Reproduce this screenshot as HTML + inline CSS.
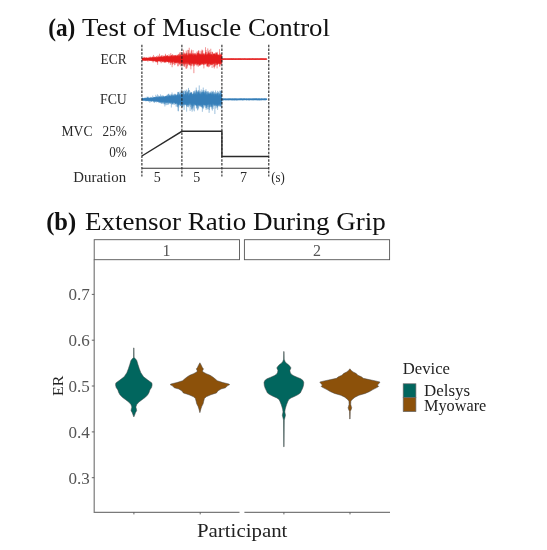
<!DOCTYPE html>
<html><head><meta charset="utf-8"><title>Figure</title>
<style>html,body{margin:0;padding:0;background:#fff}body{width:547px;height:550px;overflow:hidden}</style></head>
<body>
<svg width="547" height="550" viewBox="0 0 547 550" style="display:block;font-family:'Liberation Serif',serif">
<rect width="547" height="550" fill="#fff"/>
<text x="48.2" y="35.8" font-size="24.6" font-weight="bold" fill="#111" textLength="27.1" lengthAdjust="spacingAndGlyphs" >(a)</text>
<text x="82.0" y="35.8" font-size="24.6" font-weight="normal" fill="#111" textLength="248.0" lengthAdjust="spacingAndGlyphs" >Test of Muscle Control</text>
<text x="46.2" y="229.5" font-size="24.6" font-weight="bold" fill="#111" textLength="30.0" lengthAdjust="spacingAndGlyphs" >(b)</text>
<text x="85.0" y="229.5" font-size="24.6" font-weight="normal" fill="#111" textLength="300.8" lengthAdjust="spacingAndGlyphs" >Extensor Ratio During Grip</text>
<path d="M142.00,57.78 L142.25,58.39 L142.50,57.96 L142.75,58.27 L143.00,57.88 L143.25,58.16 L143.50,58.14 L143.75,57.79 L144.00,58.09 L144.25,57.98 L144.50,58.19 L144.75,58.15 L145.00,58.25 L145.25,58.36 L145.50,57.80 L145.75,58.35 L146.00,57.08 L146.25,57.96 L146.50,58.26 L146.75,57.81 L147.00,58.14 L147.25,57.96 L147.50,58.00 L147.75,58.04 L148.00,58.07 L148.25,57.89 L148.50,58.12 L148.75,57.88 L149.00,57.94 L149.25,57.89 L149.50,57.51 L149.75,58.06 L150.00,57.61 L150.25,58.00 L150.50,57.91 L150.75,58.01 L151.00,58.07 L151.25,57.58 L151.50,57.89 L151.75,57.58 L152.00,57.83 L152.25,57.87 L152.50,56.50 L152.75,58.06 L153.00,57.49 L153.25,57.09 L153.50,57.75 L153.75,58.00 L154.00,58.06 L154.25,57.08 L154.50,58.07 L154.75,57.70 L155.00,57.90 L155.25,57.33 L155.50,57.37 L155.75,57.48 L156.00,57.89 L156.25,57.84 L156.50,57.42 L156.75,57.96 L157.00,57.60 L157.25,57.94 L157.50,57.03 L157.75,57.24 L158.00,57.88 L158.25,57.96 L158.50,57.57 L158.75,56.78 L159.00,57.04 L159.25,56.90 L159.50,57.87 L159.75,56.25 L160.00,56.86 L160.25,56.35 L160.50,57.57 L160.75,57.47 L161.00,56.27 L161.25,57.16 L161.50,56.82 L161.75,56.43 L162.00,56.16 L162.25,57.69 L162.50,56.91 L162.75,57.28 L163.00,56.75 L163.25,56.98 L163.50,57.42 L163.75,56.86 L164.00,56.81 L164.25,56.02 L164.50,56.84 L164.75,57.25 L165.00,57.44 L165.25,57.22 L165.50,56.81 L165.75,57.49 L166.00,56.67 L166.25,55.49 L166.50,57.09 L166.75,56.52 L167.00,56.64 L167.25,55.25 L167.50,56.38 L167.75,56.48 L168.00,57.08 L168.25,56.90 L168.50,57.21 L168.75,55.70 L169.00,57.34 L169.25,57.28 L169.50,56.48 L169.75,57.17 L170.00,56.92 L170.25,56.57 L170.50,56.29 L170.75,57.16 L171.00,56.48 L171.25,54.64 L171.50,55.84 L171.75,56.43 L172.00,56.81 L172.25,57.11 L172.50,56.45 L172.75,57.03 L173.00,56.65 L173.25,56.49 L173.50,55.34 L173.75,57.03 L174.00,57.04 L174.25,56.70 L174.50,54.85 L174.75,55.88 L175.00,56.70 L175.25,55.73 L175.50,55.71 L175.75,56.78 L176.00,55.65 L176.25,56.46 L176.50,56.33 L176.75,56.50 L177.00,56.66 L177.25,55.81 L177.50,56.54 L177.75,55.69 L178.00,56.14 L178.25,56.23 L178.50,55.47 L178.75,56.46 L179.00,56.74 L179.25,55.77 L179.50,56.78 L179.75,55.91 L180.00,56.49 L180.25,55.95 L180.50,56.41 L180.75,55.54 L181.00,55.55 L181.25,56.43 L181.50,55.63 L181.75,55.07 L182.00,56.55 L182.25,56.11 L182.50,52.63 L182.75,55.89 L183.00,56.15 L183.25,54.84 L183.50,54.07 L183.75,56.44 L184.00,56.15 L184.25,55.14 L184.50,56.00 L184.75,56.10 L185.00,53.97 L185.25,54.19 L185.50,55.75 L185.75,55.67 L186.00,55.48 L186.25,56.38 L186.50,51.84 L186.75,52.89 L187.00,55.41 L187.25,56.03 L187.50,55.43 L187.75,56.05 L188.00,55.24 L188.25,55.69 L188.50,51.80 L188.75,55.37 L189.00,55.91 L189.25,53.94 L189.50,55.81 L189.75,53.47 L190.00,55.25 L190.25,52.70 L190.50,55.58 L190.75,53.96 L191.00,56.01 L191.25,54.80 L191.50,53.86 L191.75,55.60 L192.00,51.35 L192.25,55.65 L192.50,54.33 L192.75,55.42 L193.00,55.84 L193.25,55.96 L193.50,55.75 L193.75,55.06 L194.00,54.20 L194.25,55.36 L194.50,54.06 L194.75,55.72 L195.00,53.79 L195.25,54.85 L195.50,54.82 L195.75,56.04 L196.00,55.39 L196.25,55.80 L196.50,55.92 L196.75,55.93 L197.00,55.54 L197.25,52.63 L197.50,52.78 L197.75,55.21 L198.00,55.37 L198.25,52.03 L198.50,50.05 L198.75,54.23 L199.00,55.42 L199.25,53.70 L199.50,55.27 L199.75,55.74 L200.00,52.40 L200.25,55.57 L200.50,55.22 L200.75,54.30 L201.00,55.47 L201.25,55.14 L201.50,55.56 L201.75,53.72 L202.00,55.91 L202.25,53.70 L202.50,53.52 L202.75,54.97 L203.00,55.24 L203.25,55.73 L203.50,55.42 L203.75,53.06 L204.00,54.07 L204.25,55.65 L204.50,55.88 L204.75,55.49 L205.00,54.89 L205.25,52.62 L205.50,52.52 L205.75,53.88 L206.00,55.41 L206.25,55.84 L206.50,54.62 L206.75,56.12 L207.00,51.67 L207.25,53.40 L207.50,55.12 L207.75,55.41 L208.00,53.44 L208.25,55.73 L208.50,52.12 L208.75,54.65 L209.00,52.87 L209.25,52.49 L209.50,54.43 L209.75,55.27 L210.00,54.73 L210.25,55.77 L210.50,54.38 L210.75,53.49 L211.00,55.04 L211.25,54.74 L211.50,55.27 L211.75,54.34 L212.00,55.12 L212.25,56.01 L212.50,54.95 L212.75,55.78 L213.00,55.72 L213.25,56.26 L213.50,52.67 L213.75,54.35 L214.00,53.92 L214.25,53.79 L214.50,54.34 L214.75,54.51 L215.00,54.59 L215.25,56.21 L215.50,54.79 L215.75,54.40 L216.00,52.90 L216.25,54.08 L216.50,53.25 L216.75,56.29 L217.00,54.33 L217.25,56.23 L217.50,54.35 L217.75,53.92 L218.00,55.72 L218.25,55.83 L218.50,54.45 L218.75,55.30 L219.00,56.15 L219.25,54.20 L219.50,56.05 L219.75,56.45 L220.00,56.02 L220.25,53.86 L220.50,56.37 L220.75,55.13 L221.00,55.69 L221.25,55.33 L221.50,53.57 L221.75,56.13 L222.00,58.50 L222.25,58.68 L222.50,58.49 L222.75,58.54 L223.00,58.67 L223.25,58.67 L223.50,58.64 L223.75,58.66 L224.00,58.65 L224.25,58.70 L224.50,58.69 L224.75,58.68 L225.00,58.60 L225.25,58.54 L225.50,58.51 L225.75,58.70 L226.00,58.72 L226.25,58.68 L226.50,58.64 L226.75,58.55 L227.00,58.68 L227.25,58.72 L227.50,58.51 L227.75,58.69 L228.00,58.71 L228.25,58.66 L228.50,58.71 L228.75,58.52 L229.00,58.63 L229.25,58.56 L229.50,58.49 L229.75,58.66 L230.00,58.45 L230.25,58.54 L230.50,58.38 L230.75,58.69 L231.00,58.46 L231.25,58.71 L231.50,58.67 L231.75,58.62 L232.00,58.54 L232.25,58.71 L232.50,58.48 L232.75,58.66 L233.00,58.62 L233.25,58.53 L233.50,58.59 L233.75,58.54 L234.00,58.63 L234.25,58.70 L234.50,58.63 L234.75,58.57 L235.00,58.66 L235.25,58.69 L235.50,58.61 L235.75,58.70 L236.00,58.54 L236.25,58.70 L236.50,58.68 L236.75,58.59 L237.00,58.55 L237.25,58.48 L237.50,58.68 L237.75,58.63 L238.00,58.70 L238.25,58.52 L238.50,58.62 L238.75,58.67 L239.00,58.57 L239.25,58.69 L239.50,58.54 L239.75,58.47 L240.00,58.55 L240.25,58.62 L240.50,58.63 L240.75,58.71 L241.00,58.58 L241.25,58.59 L241.50,58.70 L241.75,58.71 L242.00,58.59 L242.25,58.71 L242.50,58.46 L242.75,58.67 L243.00,58.70 L243.25,58.68 L243.50,58.63 L243.75,58.61 L244.00,58.47 L244.25,58.59 L244.50,58.70 L244.75,58.53 L245.00,58.57 L245.25,58.65 L245.50,58.58 L245.75,58.70 L246.00,58.68 L246.25,58.65 L246.50,58.66 L246.75,58.58 L247.00,58.70 L247.25,58.70 L247.50,58.64 L247.75,58.60 L248.00,58.72 L248.25,58.51 L248.50,58.71 L248.75,58.61 L249.00,58.62 L249.25,58.70 L249.50,58.60 L249.75,58.53 L250.00,58.71 L250.25,58.70 L250.50,58.67 L250.75,58.71 L251.00,58.54 L251.25,58.68 L251.50,58.70 L251.75,58.70 L252.00,58.56 L252.25,58.57 L252.50,58.56 L252.75,58.53 L253.00,58.67 L253.25,58.66 L253.50,58.60 L253.75,58.69 L254.00,58.63 L254.25,58.67 L254.50,58.70 L254.75,58.66 L255.00,58.66 L255.25,58.64 L255.50,58.61 L255.75,58.70 L256.00,58.72 L256.25,58.71 L256.50,58.70 L256.75,58.71 L257.00,58.46 L257.25,58.72 L257.50,58.67 L257.75,58.65 L258.00,58.69 L258.25,58.59 L258.50,58.69 L258.75,58.69 L259.00,58.70 L259.25,58.70 L259.50,58.66 L259.75,58.57 L260.00,58.61 L260.25,58.66 L260.50,58.60 L260.75,58.67 L261.00,58.52 L261.25,58.58 L261.50,58.58 L261.75,58.71 L262.00,58.61 L262.25,58.67 L262.50,58.51 L262.75,58.55 L263.00,58.63 L263.25,58.53 L263.50,58.60 L263.75,58.60 L264.00,58.69 L264.25,58.49 L264.50,58.69 L264.75,58.66 L265.00,58.61 L265.25,58.62 L265.50,58.64 L265.75,58.71 L266.00,58.67 L266.25,58.71 L266.50,58.67 L266.75,58.62 L266.75,59.56 L266.50,59.56 L266.25,59.55 L266.00,59.54 L265.75,59.58 L265.50,59.56 L265.25,59.48 L265.00,59.64 L264.75,59.65 L264.50,59.61 L264.25,59.49 L264.00,59.76 L263.75,59.50 L263.50,59.52 L263.25,59.48 L263.00,59.52 L262.75,59.54 L262.50,59.58 L262.25,59.53 L262.00,59.56 L261.75,59.57 L261.50,59.49 L261.25,59.51 L261.00,59.58 L260.75,59.51 L260.50,59.62 L260.25,59.52 L260.00,59.63 L259.75,59.58 L259.50,59.49 L259.25,59.61 L259.00,59.69 L258.75,59.58 L258.50,59.70 L258.25,59.54 L258.00,59.62 L257.75,59.55 L257.50,59.51 L257.25,59.49 L257.00,59.69 L256.75,59.55 L256.50,59.67 L256.25,59.54 L256.00,59.48 L255.75,59.53 L255.50,59.51 L255.25,59.64 L255.00,59.64 L254.75,59.53 L254.50,59.76 L254.25,59.53 L254.00,59.51 L253.75,59.66 L253.50,59.57 L253.25,59.56 L253.00,59.60 L252.75,59.54 L252.50,59.51 L252.25,59.48 L252.00,59.51 L251.75,59.79 L251.50,59.51 L251.25,59.66 L251.00,59.62 L250.75,59.51 L250.50,59.52 L250.25,59.75 L250.00,59.49 L249.75,59.49 L249.50,59.68 L249.25,59.72 L249.00,59.73 L248.75,59.48 L248.50,59.58 L248.25,59.49 L248.00,59.55 L247.75,59.75 L247.50,59.65 L247.25,59.70 L247.00,59.49 L246.75,59.54 L246.50,59.49 L246.25,59.56 L246.00,59.53 L245.75,59.51 L245.50,59.53 L245.25,59.71 L245.00,59.52 L244.75,59.49 L244.50,59.51 L244.25,59.48 L244.00,59.54 L243.75,59.53 L243.50,59.76 L243.25,59.52 L243.00,59.56 L242.75,59.50 L242.50,59.60 L242.25,59.49 L242.00,59.57 L241.75,59.48 L241.50,59.60 L241.25,59.58 L241.00,59.71 L240.75,59.71 L240.50,59.62 L240.25,59.48 L240.00,59.75 L239.75,59.49 L239.50,59.55 L239.25,59.65 L239.00,59.48 L238.75,59.74 L238.50,59.54 L238.25,59.71 L238.00,59.55 L237.75,59.57 L237.50,59.48 L237.25,59.63 L237.00,59.48 L236.75,59.51 L236.50,59.54 L236.25,59.55 L236.00,59.51 L235.75,59.69 L235.50,59.71 L235.25,59.50 L235.00,59.58 L234.75,59.60 L234.50,59.49 L234.25,59.58 L234.00,59.65 L233.75,59.52 L233.50,59.60 L233.25,59.59 L233.00,59.54 L232.75,59.63 L232.50,59.64 L232.25,59.58 L232.00,59.63 L231.75,59.74 L231.50,59.56 L231.25,59.67 L231.00,59.53 L230.75,59.62 L230.50,59.64 L230.25,59.55 L230.00,59.57 L229.75,59.68 L229.50,59.48 L229.25,59.60 L229.00,59.67 L228.75,59.55 L228.50,59.63 L228.25,59.52 L228.00,59.50 L227.75,59.62 L227.50,59.66 L227.25,59.48 L227.00,59.56 L226.75,59.50 L226.50,59.49 L226.25,59.60 L226.00,59.51 L225.75,59.64 L225.50,59.50 L225.25,59.55 L225.00,59.60 L224.75,59.57 L224.50,59.52 L224.25,59.53 L224.00,59.65 L223.75,59.49 L223.50,59.58 L223.25,59.63 L223.00,59.50 L222.75,59.53 L222.50,59.68 L222.25,59.48 L222.00,59.57 L221.75,61.88 L221.50,63.17 L221.25,62.92 L221.00,61.76 L220.75,62.52 L220.50,65.63 L220.25,62.07 L220.00,63.41 L219.75,62.93 L219.50,64.10 L219.25,63.76 L219.00,64.01 L218.75,62.67 L218.50,64.65 L218.25,61.86 L218.00,64.10 L217.75,65.06 L217.50,64.51 L217.25,64.12 L217.00,62.41 L216.75,65.58 L216.50,62.03 L216.25,65.48 L216.00,62.79 L215.75,61.90 L215.50,62.04 L215.25,66.19 L215.00,62.63 L214.75,61.96 L214.50,64.30 L214.25,62.50 L214.00,63.70 L213.75,61.99 L213.50,62.91 L213.25,63.54 L213.00,64.56 L212.75,64.72 L212.50,64.41 L212.25,62.76 L212.00,62.60 L211.75,63.72 L211.50,65.41 L211.25,63.08 L211.00,64.35 L210.75,64.20 L210.50,65.06 L210.25,63.55 L210.00,66.30 L209.75,62.61 L209.50,64.43 L209.25,62.60 L209.00,64.35 L208.75,64.57 L208.50,63.88 L208.25,63.09 L208.00,67.16 L207.75,64.61 L207.50,64.99 L207.25,62.71 L207.00,63.49 L206.75,62.83 L206.50,62.91 L206.25,64.00 L206.00,62.85 L205.75,63.37 L205.50,65.06 L205.25,62.12 L205.00,63.42 L204.75,63.60 L204.50,62.86 L204.25,64.84 L204.00,62.40 L203.75,63.93 L203.50,65.77 L203.25,63.41 L203.00,62.88 L202.75,63.96 L202.50,65.25 L202.25,62.68 L202.00,64.53 L201.75,64.75 L201.50,62.25 L201.25,63.23 L201.00,63.22 L200.75,64.86 L200.50,64.30 L200.25,66.19 L200.00,64.83 L199.75,65.54 L199.50,65.17 L199.25,63.44 L199.00,65.82 L198.75,63.64 L198.50,62.86 L198.25,64.72 L198.00,63.48 L197.75,64.41 L197.50,63.66 L197.25,63.47 L197.00,65.58 L196.75,62.76 L196.50,63.46 L196.25,63.01 L196.00,65.18 L195.75,63.51 L195.50,63.09 L195.25,62.93 L195.00,65.96 L194.75,62.35 L194.50,64.95 L194.25,62.75 L194.00,65.82 L193.75,63.51 L193.50,65.68 L193.25,62.95 L193.00,62.63 L192.75,62.44 L192.50,63.31 L192.25,63.31 L192.00,63.62 L191.75,63.43 L191.50,62.20 L191.25,62.40 L191.00,63.47 L190.75,62.82 L190.50,62.52 L190.25,62.74 L190.00,62.97 L189.75,64.72 L189.50,64.32 L189.25,63.65 L189.00,63.32 L188.75,62.49 L188.50,61.99 L188.25,62.60 L188.00,64.25 L187.75,62.45 L187.50,61.90 L187.25,62.50 L187.00,61.94 L186.75,62.17 L186.50,62.27 L186.25,62.40 L186.00,63.14 L185.75,63.99 L185.50,61.79 L185.25,62.68 L185.00,61.77 L184.75,62.96 L184.50,63.42 L184.25,61.88 L184.00,63.30 L183.75,63.11 L183.50,63.21 L183.25,65.18 L183.00,61.75 L182.75,63.32 L182.50,62.40 L182.25,62.22 L182.00,62.93 L181.75,62.26 L181.50,63.52 L181.25,62.65 L181.00,63.54 L180.75,62.49 L180.50,61.56 L180.25,62.82 L180.00,61.81 L179.75,64.01 L179.50,61.81 L179.25,61.54 L179.00,62.07 L178.75,61.42 L178.50,62.05 L178.25,63.48 L178.00,61.45 L177.75,62.94 L177.50,61.87 L177.25,62.77 L177.00,61.91 L176.75,64.32 L176.50,61.58 L176.25,63.30 L176.00,62.12 L175.75,61.41 L175.50,63.30 L175.25,63.17 L175.00,61.24 L174.75,62.53 L174.50,62.43 L174.25,62.69 L174.00,61.10 L173.75,61.21 L173.50,61.11 L173.25,61.79 L173.00,62.19 L172.75,60.99 L172.50,63.67 L172.25,62.81 L172.00,61.57 L171.75,61.42 L171.50,61.80 L171.25,61.51 L171.00,62.68 L170.75,61.56 L170.50,61.52 L170.25,61.15 L170.00,60.96 L169.75,61.02 L169.50,62.16 L169.25,61.81 L169.00,61.38 L168.75,62.30 L168.50,61.25 L168.25,61.96 L168.00,61.86 L167.75,62.09 L167.50,61.25 L167.25,60.80 L167.00,62.27 L166.75,61.70 L166.50,60.88 L166.25,61.34 L166.00,61.00 L165.75,62.75 L165.50,61.57 L165.25,61.56 L165.00,61.52 L164.75,61.39 L164.50,62.38 L164.25,60.84 L164.00,61.64 L163.75,61.30 L163.50,61.02 L163.25,61.18 L163.00,61.00 L162.75,61.75 L162.50,60.66 L162.25,61.48 L162.00,60.99 L161.75,60.70 L161.50,60.42 L161.25,61.19 L161.00,60.57 L160.75,60.67 L160.50,60.88 L160.25,60.54 L160.00,61.03 L159.75,60.84 L159.50,60.51 L159.25,61.19 L159.00,61.31 L158.75,61.34 L158.50,60.69 L158.25,61.38 L158.00,60.41 L157.75,60.47 L157.50,61.33 L157.25,61.82 L157.00,61.66 L156.75,60.74 L156.50,60.82 L156.25,61.42 L156.00,60.46 L155.75,61.16 L155.50,60.83 L155.25,61.22 L155.00,60.95 L154.75,60.65 L154.50,60.50 L154.25,60.41 L154.00,60.81 L153.75,60.62 L153.50,60.46 L153.25,61.50 L153.00,61.19 L152.75,61.51 L152.50,60.16 L152.25,60.17 L152.00,60.95 L151.75,59.99 L151.50,61.07 L151.25,60.02 L151.00,60.04 L150.75,60.38 L150.50,60.24 L150.25,59.99 L150.00,59.99 L149.75,60.20 L149.50,60.65 L149.25,59.93 L149.00,59.90 L148.75,60.42 L148.50,59.94 L148.25,59.90 L148.00,60.09 L147.75,60.20 L147.50,60.68 L147.25,60.06 L147.00,59.91 L146.75,59.88 L146.50,60.81 L146.25,59.97 L146.00,60.23 L145.75,60.31 L145.50,60.40 L145.25,60.55 L145.00,60.61 L144.75,59.82 L144.50,60.57 L144.25,60.22 L144.00,59.75 L143.75,60.00 L143.50,60.73 L143.25,59.81 L143.00,59.81 L142.75,60.34 L142.50,60.06 L142.25,59.84 L142.00,59.87Z" fill="#e41a1c" stroke="none"/><path d="M142.00,58.23 L142.12,61.24 L142.25,58.28 L142.37,60.19 L142.50,58.12 L142.62,60.80 L142.75,57.84 L142.87,60.22 L143.00,57.85 L143.12,60.46 L143.25,57.97 L143.37,60.57 L143.50,57.83 L143.62,60.67 L143.75,58.15 L143.87,60.49 L144.00,56.81 L144.12,60.13 L144.25,57.63 L144.37,60.58 L144.50,57.54 L144.62,60.63 L144.75,58.18 L144.87,60.84 L145.00,57.39 L145.12,60.66 L145.25,57.90 L145.37,60.54 L145.50,57.75 L145.62,60.16 L145.75,58.17 L145.87,60.66 L146.00,58.03 L146.12,60.44 L146.25,57.97 L146.37,60.10 L146.50,57.39 L146.62,60.70 L146.75,57.78 L146.87,60.66 L147.00,57.83 L147.12,60.29 L147.25,57.51 L147.37,60.49 L147.50,57.91 L147.62,60.22 L147.75,58.04 L147.87,61.69 L148.00,57.90 L148.12,60.57 L148.25,57.99 L148.37,60.61 L148.50,57.86 L148.62,60.25 L148.75,56.87 L148.87,60.17 L149.00,58.02 L149.12,60.43 L149.25,57.88 L149.37,61.06 L149.50,57.55 L149.62,60.49 L149.75,57.99 L149.87,60.61 L150.00,57.27 L150.12,60.70 L150.25,56.50 L150.37,60.54 L150.50,57.38 L150.62,60.95 L150.75,57.41 L150.87,60.94 L151.00,57.95 L151.12,60.62 L151.25,57.84 L151.37,60.63 L151.50,57.51 L151.62,60.97 L151.75,57.71 L151.87,60.35 L152.00,57.80 L152.12,61.38 L152.25,56.73 L152.37,60.61 L152.50,57.76 L152.62,60.64 L152.75,56.63 L152.87,60.55 L153.00,57.40 L153.12,62.57 L153.25,57.46 L153.37,60.45 L153.50,54.96 L153.62,60.82 L153.75,57.52 L153.87,61.26 L154.00,57.47 L154.12,61.26 L154.25,57.36 L154.37,60.47 L154.50,57.44 L154.62,60.43 L154.75,56.38 L154.87,61.13 L155.00,56.80 L155.12,61.20 L155.25,57.41 L155.37,61.62 L155.50,57.45 L155.62,62.19 L155.75,57.67 L155.87,60.75 L156.00,57.11 L156.12,60.53 L156.25,57.67 L156.37,62.02 L156.50,56.02 L156.62,62.13 L156.75,56.67 L156.87,61.86 L157.00,57.54 L157.12,61.04 L157.25,56.56 L157.37,62.76 L157.50,57.38 L157.62,64.80 L157.75,57.56 L157.87,61.75 L158.00,55.30 L158.12,61.14 L158.25,57.11 L158.37,60.94 L158.50,56.28 L158.62,61.06 L158.75,56.87 L158.87,61.08 L159.00,56.59 L159.12,60.84 L159.25,57.29 L159.37,60.89 L159.50,53.77 L159.62,61.12 L159.75,57.38 L159.87,61.69 L160.00,57.38 L160.12,61.89 L160.25,57.22 L160.37,61.12 L160.50,56.36 L160.62,62.02 L160.75,57.05 L160.87,60.83 L161.00,56.33 L161.12,63.21 L161.25,55.24 L161.37,61.41 L161.50,57.32 L161.62,60.88 L161.75,56.33 L161.87,62.47 L162.00,55.27 L162.12,61.39 L162.25,57.21 L162.37,61.27 L162.50,57.09 L162.62,61.83 L162.75,56.72 L162.87,61.87 L163.00,55.64 L163.12,61.32 L163.25,55.69 L163.37,62.26 L163.50,56.74 L163.62,61.05 L163.75,56.79 L163.87,61.74 L164.00,55.94 L164.12,61.16 L164.25,56.61 L164.37,62.88 L164.50,56.12 L164.62,62.25 L164.75,56.71 L164.87,61.72 L165.00,55.84 L165.12,62.06 L165.25,54.89 L165.37,62.34 L165.50,53.84 L165.62,61.63 L165.75,56.44 L165.87,62.67 L166.00,55.86 L166.12,61.25 L166.25,56.13 L166.37,61.17 L166.50,55.79 L166.62,61.29 L166.75,56.00 L166.87,62.15 L167.00,55.29 L167.12,62.07 L167.25,55.65 L167.37,61.31 L167.50,55.06 L167.62,61.82 L167.75,56.05 L167.87,61.68 L168.00,56.92 L168.12,61.76 L168.25,56.40 L168.37,61.34 L168.50,56.04 L168.62,63.36 L168.75,56.24 L168.87,62.65 L169.00,54.31 L169.12,62.11 L169.25,56.53 L169.37,61.58 L169.50,56.27 L169.62,62.69 L169.75,56.08 L169.87,61.37 L170.00,54.96 L170.12,62.34 L170.25,56.12 L170.37,64.97 L170.50,56.15 L170.62,63.10 L170.75,53.14 L170.87,61.45 L171.00,56.53 L171.12,63.36 L171.25,55.35 L171.37,62.42 L171.50,55.44 L171.62,62.41 L171.75,56.63 L171.87,62.63 L172.00,54.89 L172.12,67.22 L172.25,55.51 L172.37,64.90 L172.50,54.19 L172.62,61.93 L172.75,55.69 L172.87,61.60 L173.00,55.92 L173.12,64.00 L173.25,55.88 L173.37,62.33 L173.50,54.95 L173.62,61.93 L173.75,56.55 L173.87,63.71 L174.00,56.07 L174.12,61.94 L174.25,55.19 L174.37,65.32 L174.50,55.62 L174.62,62.63 L174.75,56.27 L174.87,62.97 L175.00,55.67 L175.12,64.90 L175.25,55.22 L175.37,62.52 L175.50,55.54 L175.62,63.06 L175.75,55.63 L175.87,62.75 L176.00,55.08 L176.12,62.41 L176.25,54.83 L176.37,63.37 L176.50,56.18 L176.62,61.90 L176.75,56.06 L176.87,61.84 L177.00,56.29 L177.12,62.55 L177.25,55.89 L177.37,62.14 L177.50,55.01 L177.62,62.91 L177.75,54.97 L177.87,66.32 L178.00,54.44 L178.12,66.18 L178.25,55.51 L178.37,62.13 L178.50,54.07 L178.62,63.24 L178.75,55.50 L178.87,63.48 L179.00,55.99 L179.12,63.11 L179.25,53.56 L179.37,64.77 L179.50,55.11 L179.62,64.11 L179.75,52.35 L179.87,63.25 L180.00,54.25 L180.12,63.09 L180.25,55.11 L180.37,66.26 L180.50,54.37 L180.62,64.11 L180.75,52.06 L180.87,62.71 L181.00,55.89 L181.12,63.31 L181.25,55.47 L181.37,65.33 L181.50,54.36 L181.62,62.25 L181.75,52.02 L181.87,65.33 L182.00,54.62 L182.12,63.97 L182.25,55.25 L182.37,63.02 L182.50,53.94 L182.62,64.10 L182.75,55.44 L182.87,65.75 L183.00,52.52 L183.12,62.61 L183.25,54.83 L183.37,63.87 L183.50,49.80 L183.62,62.69 L183.75,54.16 L183.87,65.79 L184.00,54.67 L184.12,66.68 L184.25,53.28 L184.37,64.04 L184.50,52.59 L184.62,66.62 L184.75,53.99 L184.87,64.82 L185.00,54.43 L185.12,62.63 L185.25,54.28 L185.37,63.45 L185.50,53.17 L185.62,64.37 L185.75,55.22 L185.87,68.55 L186.00,54.63 L186.12,63.79 L186.25,50.67 L186.37,63.76 L186.50,53.39 L186.62,68.78 L186.75,53.42 L186.87,63.44 L187.00,55.38 L187.12,67.71 L187.25,54.82 L187.37,62.96 L187.50,55.00 L187.62,66.12 L187.75,53.53 L187.87,63.99 L188.00,49.84 L188.12,64.55 L188.25,50.08 L188.37,64.30 L188.50,53.71 L188.62,63.21 L188.75,55.29 L188.87,64.70 L189.00,54.25 L189.12,63.06 L189.25,47.74 L189.37,64.39 L189.50,53.37 L189.62,65.59 L189.75,53.38 L189.87,65.03 L190.00,54.04 L190.12,64.48 L190.25,54.92 L190.37,65.05 L190.50,52.74 L190.62,66.23 L190.75,54.02 L190.87,69.31 L191.00,54.70 L191.12,63.66 L191.25,50.74 L191.37,64.17 L191.50,49.62 L191.62,65.47 L191.75,53.90 L191.87,66.10 L192.00,53.48 L192.12,64.17 L192.25,54.08 L192.37,63.61 L192.50,54.82 L192.62,64.36 L192.75,53.39 L192.87,63.37 L193.00,50.07 L193.12,63.61 L193.25,53.07 L193.37,66.41 L193.50,53.91 L193.62,63.23 L193.75,54.25 L193.87,73.16 L194.00,55.18 L194.12,64.45 L194.25,54.16 L194.37,66.07 L194.50,54.72 L194.62,63.59 L194.75,53.17 L194.87,63.33 L195.00,52.83 L195.12,63.36 L195.25,53.42 L195.37,64.12 L195.50,54.45 L195.62,64.22 L195.75,54.88 L195.87,63.05 L196.00,54.83 L196.12,65.07 L196.25,54.08 L196.37,63.65 L196.50,54.61 L196.62,63.09 L196.75,52.44 L196.87,65.31 L197.00,54.78 L197.12,66.31 L197.25,51.23 L197.37,64.46 L197.50,52.79 L197.62,64.62 L197.75,53.70 L197.87,63.94 L198.00,54.78 L198.12,63.29 L198.25,53.00 L198.37,66.77 L198.50,50.53 L198.62,63.96 L198.75,53.41 L198.87,63.91 L199.00,50.61 L199.12,65.53 L199.25,53.28 L199.37,65.49 L199.50,54.43 L199.62,65.12 L199.75,53.91 L199.87,65.40 L200.00,54.15 L200.12,63.99 L200.25,53.89 L200.37,63.22 L200.50,54.79 L200.62,64.58 L200.75,53.59 L200.87,63.66 L201.00,50.84 L201.12,63.68 L201.25,54.67 L201.37,64.90 L201.50,54.09 L201.62,64.20 L201.75,52.47 L201.87,63.57 L202.00,49.58 L202.12,63.47 L202.25,50.62 L202.37,63.65 L202.50,55.00 L202.62,63.72 L202.75,50.40 L202.87,63.45 L203.00,54.29 L203.12,64.55 L203.25,53.57 L203.37,64.77 L203.50,53.69 L203.62,63.34 L203.75,54.38 L203.87,68.38 L204.00,54.72 L204.12,64.54 L204.25,53.11 L204.37,63.57 L204.50,54.43 L204.62,63.10 L204.75,55.03 L204.87,64.93 L205.00,53.96 L205.12,63.85 L205.25,54.22 L205.37,63.54 L205.50,47.26 L205.62,63.68 L205.75,51.87 L205.87,63.71 L206.00,50.06 L206.12,64.34 L206.25,52.14 L206.37,63.08 L206.50,53.97 L206.62,63.13 L206.75,54.74 L206.87,66.43 L207.00,55.13 L207.12,66.16 L207.25,54.58 L207.37,65.83 L207.50,54.27 L207.62,66.73 L207.75,48.42 L207.87,65.79 L208.00,53.82 L208.12,63.42 L208.25,53.29 L208.37,67.27 L208.50,51.22 L208.62,63.21 L208.75,52.37 L208.87,63.98 L209.00,52.69 L209.12,66.46 L209.25,49.91 L209.37,66.59 L209.50,53.46 L209.62,63.06 L209.75,54.63 L209.87,64.06 L210.00,54.70 L210.12,63.90 L210.25,53.75 L210.37,63.12 L210.50,52.19 L210.62,65.47 L210.75,48.78 L210.87,63.72 L211.00,54.92 L211.12,64.41 L211.25,54.32 L211.37,65.05 L211.50,53.99 L211.62,64.81 L211.75,54.64 L211.87,63.42 L212.00,51.65 L212.12,67.98 L212.25,51.99 L212.37,63.34 L212.50,52.33 L212.62,64.85 L212.75,55.20 L212.87,63.91 L213.00,54.06 L213.12,63.73 L213.25,53.89 L213.37,64.05 L213.50,54.10 L213.62,67.20 L213.75,53.38 L213.87,63.67 L214.00,54.49 L214.12,63.73 L214.25,54.07 L214.37,68.48 L214.50,53.03 L214.62,66.50 L214.75,54.53 L214.87,66.75 L215.00,54.35 L215.12,63.55 L215.25,54.24 L215.37,65.44 L215.50,54.79 L215.62,63.29 L215.75,52.76 L215.87,62.84 L216.00,52.07 L216.12,65.20 L216.25,52.99 L216.37,63.18 L216.50,54.83 L216.62,62.95 L216.75,52.87 L216.87,64.53 L217.00,52.91 L217.12,68.40 L217.25,51.89 L217.37,64.91 L217.50,55.07 L217.62,63.22 L217.75,54.81 L217.87,63.63 L218.00,54.75 L218.12,63.33 L218.25,54.55 L218.37,62.67 L218.50,54.85 L218.62,64.18 L218.75,55.05 L218.87,63.91 L219.00,55.15 L219.12,63.23 L219.25,54.83 L219.37,63.36 L219.50,49.19 L219.62,66.41 L219.75,54.65 L219.87,66.57 L220.00,52.86 L220.12,64.07 L220.25,54.88 L220.37,62.98 L220.50,55.18 L220.62,63.75 L220.75,54.13 L220.87,64.27 L221.00,54.71 L221.12,64.73 L221.25,55.35 L221.37,63.69 L221.50,53.31 L221.62,63.94 L221.75,54.26 L221.87,62.68 L222.00,58.56 L222.12,59.66 L222.25,58.62 L222.37,59.67 L222.50,58.55 L222.62,59.54 L222.75,58.65 L222.87,59.55 L223.00,58.63 L223.12,59.66 L223.25,58.51 L223.37,59.61 L223.50,58.57 L223.62,59.61 L223.75,58.43 L223.87,59.57 L224.00,58.55 L224.12,59.58 L224.25,58.50 L224.37,59.63 L224.50,58.54 L224.62,59.64 L224.75,58.58 L224.87,59.66 L225.00,58.48 L225.12,59.55 L225.25,58.55 L225.37,59.65 L225.50,58.67 L225.62,59.66 L225.75,58.68 L225.87,59.57 L226.00,58.61 L226.12,59.58 L226.25,58.67 L226.37,59.67 L226.50,58.59 L226.62,59.53 L226.75,58.56 L226.87,59.53 L227.00,58.44 L227.12,59.56 L227.25,58.58 L227.37,59.64 L227.50,58.65 L227.62,59.67 L227.75,58.49 L227.87,59.54 L228.00,58.65 L228.12,59.62 L228.25,58.57 L228.37,59.60 L228.50,58.58 L228.62,59.56 L228.75,58.53 L228.87,59.66 L229.00,58.53 L229.12,59.70 L229.25,58.63 L229.37,59.55 L229.50,58.63 L229.62,59.53 L229.75,58.65 L229.87,59.53 L230.00,58.59 L230.12,59.71 L230.25,58.65 L230.37,59.58 L230.50,58.63 L230.62,59.60 L230.75,58.64 L230.87,59.64 L231.00,58.53 L231.12,59.57 L231.25,58.59 L231.37,59.54 L231.50,58.48 L231.62,59.53 L231.75,58.54 L231.87,59.60 L232.00,58.42 L232.12,59.52 L232.25,58.58 L232.37,59.53 L232.50,58.61 L232.62,59.58 L232.75,58.50 L232.87,59.73 L233.00,58.54 L233.12,59.83 L233.25,58.67 L233.37,59.65 L233.50,58.59 L233.62,59.58 L233.75,58.55 L233.87,59.65 L234.00,58.67 L234.12,59.73 L234.25,58.55 L234.37,59.55 L234.50,58.64 L234.62,59.61 L234.75,58.63 L234.87,59.77 L235.00,58.53 L235.12,59.82 L235.25,58.51 L235.37,59.55 L235.50,58.64 L235.62,59.77 L235.75,58.58 L235.87,59.58 L236.00,58.61 L236.12,59.55 L236.25,58.63 L236.37,59.71 L236.50,58.57 L236.62,59.66 L236.75,58.66 L236.87,59.53 L237.00,58.59 L237.12,59.65 L237.25,58.59 L237.37,59.53 L237.50,58.66 L237.62,59.67 L237.75,58.60 L237.87,59.59 L238.00,58.51 L238.12,59.57 L238.25,58.62 L238.37,59.58 L238.50,58.68 L238.62,59.58 L238.75,58.40 L238.87,59.67 L239.00,58.57 L239.12,59.53 L239.25,58.62 L239.37,59.59 L239.50,58.63 L239.62,59.68 L239.75,58.58 L239.87,59.52 L240.00,58.60 L240.12,59.67 L240.25,58.51 L240.37,59.57 L240.50,58.51 L240.62,59.62 L240.75,58.49 L240.87,59.68 L241.00,58.67 L241.12,59.68 L241.25,58.65 L241.37,59.78 L241.50,58.60 L241.62,59.71 L241.75,58.66 L241.87,59.61 L242.00,58.67 L242.12,59.59 L242.25,58.60 L242.37,59.59 L242.50,58.44 L242.62,59.61 L242.75,58.67 L242.87,59.58 L243.00,58.53 L243.12,59.57 L243.25,58.68 L243.37,59.65 L243.50,58.61 L243.62,59.66 L243.75,58.61 L243.87,59.53 L244.00,58.47 L244.12,59.57 L244.25,58.66 L244.37,59.54 L244.50,58.56 L244.62,59.61 L244.75,58.62 L244.87,59.57 L245.00,58.61 L245.12,59.75 L245.25,58.45 L245.37,59.57 L245.50,58.63 L245.62,59.55 L245.75,58.64 L245.87,59.65 L246.00,58.67 L246.12,59.59 L246.25,58.65 L246.37,59.64 L246.50,58.67 L246.62,59.63 L246.75,58.66 L246.87,59.69 L247.00,58.53 L247.12,59.84 L247.25,58.64 L247.37,59.60 L247.50,58.64 L247.62,59.59 L247.75,58.64 L247.87,59.69 L248.00,58.65 L248.12,59.63 L248.25,58.66 L248.37,59.69 L248.50,58.61 L248.62,59.74 L248.75,58.65 L248.87,59.66 L249.00,58.57 L249.12,59.60 L249.25,58.50 L249.37,59.69 L249.50,58.62 L249.62,59.53 L249.75,58.64 L249.87,59.59 L250.00,58.54 L250.12,59.60 L250.25,58.46 L250.37,59.61 L250.50,58.61 L250.62,59.56 L250.75,58.43 L250.87,59.59 L251.00,58.68 L251.12,59.55 L251.25,58.53 L251.37,59.57 L251.50,58.60 L251.62,59.60 L251.75,58.64 L251.87,59.59 L252.00,58.58 L252.12,59.66 L252.25,58.65 L252.37,59.63 L252.50,58.62 L252.62,59.65 L252.75,58.50 L252.87,59.60 L253.00,58.56 L253.12,59.60 L253.25,58.37 L253.37,59.54 L253.50,58.60 L253.62,59.65 L253.75,58.63 L253.87,59.55 L254.00,58.64 L254.12,59.61 L254.25,58.61 L254.37,59.55 L254.50,58.60 L254.62,59.61 L254.75,58.55 L254.87,59.57 L255.00,58.36 L255.12,59.78 L255.25,58.59 L255.37,59.55 L255.50,58.60 L255.62,59.86 L255.75,58.43 L255.87,59.56 L256.00,58.61 L256.12,59.57 L256.25,58.52 L256.37,59.56 L256.50,58.65 L256.62,59.56 L256.75,58.41 L256.87,59.57 L257.00,58.59 L257.12,59.53 L257.25,58.52 L257.37,59.58 L257.50,58.44 L257.62,59.68 L257.75,58.58 L257.87,59.64 L258.00,58.54 L258.12,59.54 L258.25,58.66 L258.37,59.52 L258.50,58.64 L258.62,59.55 L258.75,58.56 L258.87,59.56 L259.00,58.57 L259.12,59.53 L259.25,58.54 L259.37,59.52 L259.50,58.68 L259.62,59.76 L259.75,58.56 L259.87,59.60 L260.00,58.57 L260.12,59.65 L260.25,58.53 L260.37,59.59 L260.50,58.41 L260.62,59.57 L260.75,58.67 L260.87,59.54 L261.00,58.59 L261.12,59.57 L261.25,58.54 L261.37,59.74 L261.50,58.58 L261.62,59.56 L261.75,58.59 L261.87,59.64 L262.00,58.38 L262.12,59.56 L262.25,58.59 L262.37,59.75 L262.50,58.61 L262.62,59.63 L262.75,58.64 L262.87,59.56 L263.00,58.58 L263.12,59.66 L263.25,58.62 L263.37,59.71 L263.50,58.65 L263.62,59.56 L263.75,58.63 L263.87,59.68 L264.00,58.63 L264.12,59.54 L264.25,58.61 L264.37,59.60 L264.50,58.65 L264.62,59.76 L264.75,58.66 L264.87,59.59 L265.00,58.51 L265.12,59.65 L265.25,58.54 L265.37,59.57 L265.50,58.57 L265.62,59.69 L265.75,58.50 L265.87,59.67 L266.00,58.54 L266.12,59.57 L266.25,58.65 L266.37,59.54 L266.50,58.63 L266.62,59.70 L266.75,58.60 L266.87,59.58" fill="none" stroke="#e41a1c" stroke-width="0.4" stroke-opacity="0.65" stroke-linejoin="round"/>
<path d="M142.00,98.62 L142.25,98.43 L142.50,98.65 L142.75,98.17 L143.00,98.37 L143.25,98.44 L143.50,98.68 L143.75,98.63 L144.00,98.26 L144.25,98.17 L144.50,98.44 L144.75,98.47 L145.00,97.86 L145.25,98.30 L145.50,98.35 L145.75,98.35 L146.00,98.64 L146.25,98.45 L146.50,97.79 L146.75,98.22 L147.00,98.22 L147.25,97.86 L147.50,98.42 L147.75,97.70 L148.00,98.09 L148.25,97.63 L148.50,98.52 L148.75,97.96 L149.00,97.82 L149.25,98.41 L149.50,98.34 L149.75,98.23 L150.00,97.92 L150.25,98.19 L150.50,97.95 L150.75,97.89 L151.00,98.06 L151.25,98.20 L151.50,98.19 L151.75,98.33 L152.00,98.15 L152.25,98.29 L152.50,97.34 L152.75,98.14 L153.00,97.85 L153.25,97.46 L153.50,97.69 L153.75,97.78 L154.00,97.32 L154.25,97.52 L154.50,97.11 L154.75,97.57 L155.00,97.53 L155.25,97.70 L155.50,97.10 L155.75,97.54 L156.00,97.46 L156.25,95.44 L156.50,97.19 L156.75,98.09 L157.00,97.03 L157.25,96.68 L157.50,97.26 L157.75,97.94 L158.00,97.67 L158.25,97.81 L158.50,96.52 L158.75,97.82 L159.00,96.34 L159.25,96.44 L159.50,96.26 L159.75,97.07 L160.00,97.36 L160.25,96.56 L160.50,97.74 L160.75,97.68 L161.00,96.48 L161.25,97.60 L161.50,97.76 L161.75,97.06 L162.00,97.59 L162.25,97.51 L162.50,97.64 L162.75,97.34 L163.00,96.22 L163.25,96.38 L163.50,97.18 L163.75,97.56 L164.00,97.39 L164.25,96.68 L164.50,96.76 L164.75,97.08 L165.00,97.36 L165.25,96.79 L165.50,96.67 L165.75,95.52 L166.00,96.24 L166.25,96.12 L166.50,97.04 L166.75,95.49 L167.00,96.65 L167.25,97.34 L167.50,97.05 L167.75,96.64 L168.00,94.71 L168.25,96.74 L168.50,96.72 L168.75,96.80 L169.00,95.18 L169.25,96.16 L169.50,95.75 L169.75,95.56 L170.00,95.73 L170.25,97.00 L170.50,95.81 L170.75,96.72 L171.00,93.88 L171.25,95.01 L171.50,95.84 L171.75,97.09 L172.00,95.78 L172.25,96.40 L172.50,96.83 L172.75,96.21 L173.00,92.96 L173.25,96.17 L173.50,96.00 L173.75,96.38 L174.00,94.77 L174.25,95.30 L174.50,96.63 L174.75,96.83 L175.00,96.16 L175.25,95.38 L175.50,95.94 L175.75,93.77 L176.00,96.47 L176.25,96.19 L176.50,96.14 L176.75,95.17 L177.00,96.41 L177.25,92.69 L177.50,95.62 L177.75,95.05 L178.00,95.24 L178.25,95.66 L178.50,96.05 L178.75,94.68 L179.00,94.01 L179.25,94.92 L179.50,96.38 L179.75,93.16 L180.00,95.70 L180.25,94.29 L180.50,94.58 L180.75,96.39 L181.00,95.53 L181.25,93.85 L181.50,95.13 L181.75,93.72 L182.00,95.52 L182.25,94.83 L182.50,94.84 L182.75,93.61 L183.00,94.49 L183.25,94.54 L183.50,96.10 L183.75,93.62 L184.00,94.18 L184.25,95.22 L184.50,93.91 L184.75,95.56 L185.00,95.90 L185.25,93.08 L185.50,88.90 L185.75,94.51 L186.00,94.28 L186.25,95.28 L186.50,95.94 L186.75,93.97 L187.00,93.46 L187.25,90.65 L187.50,93.84 L187.75,94.17 L188.00,93.73 L188.25,95.55 L188.50,95.80 L188.75,95.66 L189.00,94.40 L189.25,94.52 L189.50,93.20 L189.75,95.45 L190.00,95.16 L190.25,90.84 L190.50,93.24 L190.75,91.97 L191.00,92.76 L191.25,92.70 L191.50,91.49 L191.75,93.46 L192.00,95.07 L192.25,95.77 L192.50,92.65 L192.75,95.21 L193.00,95.52 L193.25,93.61 L193.50,94.93 L193.75,91.92 L194.00,91.30 L194.25,95.46 L194.50,92.21 L194.75,95.12 L195.00,94.96 L195.25,94.34 L195.50,93.70 L195.75,94.19 L196.00,91.79 L196.25,94.62 L196.50,94.78 L196.75,94.67 L197.00,92.79 L197.25,94.82 L197.50,93.53 L197.75,94.86 L198.00,93.42 L198.25,92.03 L198.50,93.30 L198.75,91.65 L199.00,93.71 L199.25,94.46 L199.50,91.92 L199.75,94.68 L200.00,92.57 L200.25,95.48 L200.50,93.79 L200.75,94.44 L201.00,94.30 L201.25,95.13 L201.50,93.45 L201.75,92.31 L202.00,93.36 L202.25,94.93 L202.50,93.18 L202.75,90.38 L203.00,92.69 L203.25,91.47 L203.50,94.62 L203.75,90.98 L204.00,93.05 L204.25,93.20 L204.50,90.60 L204.75,94.54 L205.00,93.65 L205.25,91.81 L205.50,89.37 L205.75,95.65 L206.00,94.94 L206.25,95.37 L206.50,94.30 L206.75,94.64 L207.00,91.40 L207.25,93.29 L207.50,95.63 L207.75,94.65 L208.00,94.75 L208.25,93.11 L208.50,90.42 L208.75,94.76 L209.00,94.86 L209.25,92.87 L209.50,94.36 L209.75,94.82 L210.00,92.10 L210.25,93.75 L210.50,94.27 L210.75,91.43 L211.00,92.51 L211.25,93.11 L211.50,95.21 L211.75,94.29 L212.00,94.50 L212.25,95.26 L212.50,93.33 L212.75,93.03 L213.00,90.05 L213.25,95.44 L213.50,92.65 L213.75,94.76 L214.00,95.71 L214.25,95.50 L214.50,95.48 L214.75,94.04 L215.00,94.09 L215.25,93.10 L215.50,95.19 L215.75,93.69 L216.00,95.25 L216.25,95.94 L216.50,94.52 L216.75,93.44 L217.00,95.55 L217.25,93.03 L217.50,93.66 L217.75,92.90 L218.00,95.92 L218.25,95.76 L218.50,94.06 L218.75,95.99 L219.00,94.99 L219.25,92.45 L219.50,95.08 L219.75,95.90 L220.00,95.07 L220.25,95.11 L220.50,95.61 L220.75,94.99 L221.00,94.29 L221.25,94.02 L221.50,93.73 L221.75,93.34 L222.00,98.62 L222.25,98.66 L222.50,98.71 L222.75,98.67 L223.00,98.72 L223.25,98.75 L223.50,98.80 L223.75,98.62 L224.00,98.73 L224.25,98.75 L224.50,98.84 L224.75,98.63 L225.00,98.75 L225.25,98.69 L225.50,98.55 L225.75,98.85 L226.00,98.81 L226.25,98.68 L226.50,98.72 L226.75,98.79 L227.00,98.84 L227.25,98.78 L227.50,98.77 L227.75,98.81 L228.00,98.80 L228.25,98.80 L228.50,98.76 L228.75,98.83 L229.00,98.68 L229.25,98.84 L229.50,98.77 L229.75,98.83 L230.00,98.70 L230.25,98.84 L230.50,98.63 L230.75,98.85 L231.00,98.75 L231.25,98.78 L231.50,98.82 L231.75,98.86 L232.00,98.74 L232.25,98.67 L232.50,98.62 L232.75,98.77 L233.00,98.70 L233.25,98.67 L233.50,98.85 L233.75,98.73 L234.00,98.75 L234.25,98.79 L234.50,98.84 L234.75,98.72 L235.00,98.54 L235.25,98.62 L235.50,98.66 L235.75,98.77 L236.00,98.64 L236.25,98.67 L236.50,98.63 L236.75,98.55 L237.00,98.82 L237.25,98.76 L237.50,98.86 L237.75,98.83 L238.00,98.84 L238.25,98.77 L238.50,98.78 L238.75,98.76 L239.00,98.65 L239.25,98.67 L239.50,98.65 L239.75,98.61 L240.00,98.74 L240.25,98.84 L240.50,98.85 L240.75,98.86 L241.00,98.37 L241.25,98.82 L241.50,98.86 L241.75,98.71 L242.00,98.46 L242.25,98.65 L242.50,98.85 L242.75,98.70 L243.00,98.82 L243.25,98.85 L243.50,98.83 L243.75,98.71 L244.00,98.62 L244.25,98.86 L244.50,98.45 L244.75,98.81 L245.00,98.64 L245.25,98.74 L245.50,98.70 L245.75,98.82 L246.00,98.80 L246.25,98.84 L246.50,98.71 L246.75,98.74 L247.00,98.66 L247.25,98.72 L247.50,98.77 L247.75,98.80 L248.00,98.71 L248.25,98.82 L248.50,98.74 L248.75,98.57 L249.00,98.82 L249.25,98.69 L249.50,98.69 L249.75,98.55 L250.00,98.73 L250.25,98.85 L250.50,98.71 L250.75,98.76 L251.00,98.53 L251.25,98.76 L251.50,98.77 L251.75,98.83 L252.00,98.64 L252.25,98.67 L252.50,98.68 L252.75,98.57 L253.00,98.75 L253.25,98.55 L253.50,98.77 L253.75,98.83 L254.00,98.66 L254.25,98.85 L254.50,98.67 L254.75,98.48 L255.00,98.82 L255.25,98.59 L255.50,98.65 L255.75,98.79 L256.00,98.49 L256.25,98.39 L256.50,98.84 L256.75,98.57 L257.00,98.82 L257.25,98.83 L257.50,98.74 L257.75,98.82 L258.00,98.75 L258.25,98.79 L258.50,98.79 L258.75,98.61 L259.00,98.84 L259.25,98.80 L259.50,98.57 L259.75,98.70 L260.00,98.83 L260.25,98.65 L260.50,98.83 L260.75,98.70 L261.00,98.73 L261.25,98.72 L261.50,98.73 L261.75,98.58 L262.00,98.81 L262.25,98.78 L262.50,98.84 L262.75,98.77 L263.00,98.74 L263.25,98.64 L263.50,98.67 L263.75,98.74 L264.00,98.69 L264.25,98.44 L264.50,98.80 L264.75,98.76 L265.00,98.79 L265.25,98.53 L265.50,98.65 L265.75,98.69 L266.00,98.50 L266.25,98.80 L266.50,98.67 L266.75,98.49 L266.75,100.02 L266.50,100.01 L266.25,100.09 L266.00,100.00 L265.75,100.21 L265.50,100.00 L265.25,99.97 L265.00,100.03 L264.75,100.21 L264.50,100.01 L264.25,100.05 L264.00,99.97 L263.75,100.01 L263.50,100.14 L263.25,99.99 L263.00,100.08 L262.75,99.97 L262.50,99.94 L262.25,100.15 L262.00,100.25 L261.75,100.06 L261.50,100.08 L261.25,100.17 L261.00,100.27 L260.75,100.29 L260.50,100.01 L260.25,100.19 L260.00,99.98 L259.75,100.35 L259.50,100.20 L259.25,100.19 L259.00,100.04 L258.75,100.13 L258.50,100.18 L258.25,100.12 L258.00,99.98 L257.75,100.14 L257.50,100.25 L257.25,100.14 L257.00,99.99 L256.75,100.02 L256.50,100.15 L256.25,100.23 L256.00,100.24 L255.75,100.05 L255.50,100.12 L255.25,100.04 L255.00,100.22 L254.75,99.97 L254.50,99.95 L254.25,100.03 L254.00,99.97 L253.75,99.99 L253.50,100.07 L253.25,99.99 L253.00,100.04 L252.75,100.15 L252.50,100.09 L252.25,99.96 L252.00,100.15 L251.75,100.05 L251.50,99.98 L251.25,100.26 L251.00,99.98 L250.75,100.23 L250.50,100.05 L250.25,100.00 L250.00,100.05 L249.75,100.40 L249.50,100.34 L249.25,99.98 L249.00,99.99 L248.75,100.03 L248.50,100.15 L248.25,100.14 L248.00,100.09 L247.75,100.07 L247.50,99.97 L247.25,100.02 L247.00,100.03 L246.75,100.15 L246.50,100.06 L246.25,100.25 L246.00,100.08 L245.75,99.97 L245.50,100.03 L245.25,100.01 L245.00,100.10 L244.75,99.98 L244.50,100.35 L244.25,100.05 L244.00,100.06 L243.75,100.06 L243.50,100.00 L243.25,100.08 L243.00,100.03 L242.75,99.95 L242.50,100.22 L242.25,100.01 L242.00,100.01 L241.75,100.08 L241.50,100.27 L241.25,100.01 L241.00,99.98 L240.75,100.01 L240.50,100.05 L240.25,100.02 L240.00,100.22 L239.75,100.03 L239.50,100.22 L239.25,99.99 L239.00,100.34 L238.75,100.10 L238.50,100.05 L238.25,100.07 L238.00,100.05 L237.75,100.17 L237.50,100.03 L237.25,100.11 L237.00,100.01 L236.75,100.16 L236.50,100.09 L236.25,100.24 L236.00,100.01 L235.75,100.34 L235.50,100.00 L235.25,99.94 L235.00,99.99 L234.75,100.04 L234.50,100.32 L234.25,100.35 L234.00,100.07 L233.75,100.12 L233.50,99.98 L233.25,100.16 L233.00,100.04 L232.75,99.95 L232.50,100.44 L232.25,100.34 L232.00,100.08 L231.75,100.04 L231.50,100.06 L231.25,100.17 L231.00,100.18 L230.75,100.08 L230.50,100.00 L230.25,100.08 L230.00,100.06 L229.75,100.23 L229.50,100.10 L229.25,100.00 L229.00,100.13 L228.75,100.33 L228.50,100.04 L228.25,100.14 L228.00,100.10 L227.75,100.11 L227.50,100.03 L227.25,99.97 L227.00,100.19 L226.75,100.11 L226.50,99.98 L226.25,100.16 L226.00,100.35 L225.75,100.09 L225.50,100.02 L225.25,100.00 L225.00,100.03 L224.75,100.02 L224.50,100.10 L224.25,99.99 L224.00,100.08 L223.75,99.99 L223.50,100.06 L223.25,100.32 L223.00,100.11 L222.75,100.09 L222.50,100.11 L222.25,100.22 L222.00,99.96 L221.75,104.40 L221.50,104.05 L221.25,103.42 L221.00,104.28 L220.75,103.66 L220.50,103.06 L220.25,103.99 L220.00,104.58 L219.75,103.64 L219.50,105.69 L219.25,103.84 L219.00,105.51 L218.75,105.73 L218.50,104.04 L218.25,104.55 L218.00,104.31 L217.75,105.95 L217.50,105.07 L217.25,104.67 L217.00,103.49 L216.75,104.84 L216.50,104.42 L216.25,105.65 L216.00,104.36 L215.75,105.61 L215.50,104.02 L215.25,103.63 L215.00,105.51 L214.75,104.51 L214.50,105.94 L214.25,103.73 L214.00,103.24 L213.75,104.39 L213.50,105.01 L213.25,103.01 L213.00,104.53 L212.75,106.10 L212.50,102.98 L212.25,104.37 L212.00,103.25 L211.75,106.78 L211.50,106.25 L211.25,106.39 L211.00,103.74 L210.75,103.96 L210.50,104.59 L210.25,103.40 L210.00,107.91 L209.75,108.31 L209.50,104.00 L209.25,104.01 L209.00,103.85 L208.75,104.36 L208.50,103.66 L208.25,104.69 L208.00,104.59 L207.75,104.73 L207.50,104.79 L207.25,104.90 L207.00,103.54 L206.75,108.84 L206.50,105.87 L206.25,103.95 L206.00,106.60 L205.75,104.76 L205.50,104.85 L205.25,105.92 L205.00,104.26 L204.75,105.95 L204.50,104.72 L204.25,104.94 L204.00,103.93 L203.75,105.17 L203.50,104.07 L203.25,104.53 L203.00,104.67 L202.75,103.74 L202.50,108.63 L202.25,106.23 L202.00,107.00 L201.75,105.83 L201.50,105.88 L201.25,104.42 L201.00,103.81 L200.75,105.10 L200.50,105.90 L200.25,106.31 L200.00,104.88 L199.75,104.27 L199.50,106.80 L199.25,104.88 L199.00,104.99 L198.75,105.25 L198.50,105.20 L198.25,103.65 L198.00,110.22 L197.75,103.13 L197.50,104.00 L197.25,107.56 L197.00,106.20 L196.75,105.37 L196.50,107.31 L196.25,105.20 L196.00,105.06 L195.75,103.85 L195.50,104.15 L195.25,106.05 L195.00,104.15 L194.75,103.58 L194.50,104.73 L194.25,103.22 L194.00,105.58 L193.75,103.10 L193.50,103.79 L193.25,106.14 L193.00,107.90 L192.75,105.66 L192.50,107.72 L192.25,103.15 L192.00,103.68 L191.75,103.71 L191.50,107.01 L191.25,104.59 L191.00,106.04 L190.75,103.87 L190.50,103.27 L190.25,103.37 L190.00,103.00 L189.75,103.41 L189.50,103.14 L189.25,103.50 L189.00,103.29 L188.75,103.50 L188.50,107.65 L188.25,107.16 L188.00,102.98 L187.75,104.17 L187.50,105.68 L187.25,104.98 L187.00,105.11 L186.75,107.52 L186.50,106.16 L186.25,103.05 L186.00,104.59 L185.75,103.45 L185.50,105.67 L185.25,103.52 L185.00,103.83 L184.75,104.46 L184.50,103.45 L184.25,105.27 L184.00,104.44 L183.75,104.75 L183.50,104.94 L183.25,103.40 L183.00,103.59 L182.75,103.04 L182.50,104.75 L182.25,104.95 L182.00,103.48 L181.75,103.51 L181.50,103.72 L181.25,104.30 L181.00,105.97 L180.75,102.85 L180.50,106.89 L180.25,102.67 L180.00,103.23 L179.75,102.42 L179.50,104.15 L179.25,106.31 L179.00,103.71 L178.75,104.49 L178.50,105.58 L178.25,106.03 L178.00,103.56 L177.75,104.58 L177.50,102.25 L177.25,107.57 L177.00,107.37 L176.75,102.55 L176.50,104.34 L176.25,103.21 L176.00,102.99 L175.75,104.32 L175.50,104.09 L175.25,104.21 L175.00,103.05 L174.75,101.96 L174.50,103.26 L174.25,102.93 L174.00,102.50 L173.75,102.53 L173.50,101.85 L173.25,102.00 L173.00,102.01 L172.75,103.25 L172.50,103.38 L172.25,102.99 L172.00,105.79 L171.75,102.32 L171.50,102.01 L171.25,102.17 L171.00,101.68 L170.75,104.12 L170.50,102.61 L170.25,102.08 L170.00,101.95 L169.75,102.78 L169.50,103.64 L169.25,101.79 L169.00,101.70 L168.75,103.03 L168.50,101.57 L168.25,101.43 L168.00,101.79 L167.75,102.76 L167.50,102.47 L167.25,102.36 L167.00,101.69 L166.75,102.89 L166.50,101.32 L166.25,103.66 L166.00,101.70 L165.75,102.96 L165.50,102.38 L165.25,101.32 L165.00,101.41 L164.75,101.96 L164.50,102.54 L164.25,101.21 L164.00,101.97 L163.75,103.46 L163.50,101.13 L163.25,101.27 L163.00,102.27 L162.75,103.08 L162.50,101.48 L162.25,102.32 L162.00,101.72 L161.75,101.72 L161.50,102.54 L161.25,103.27 L161.00,101.55 L160.75,101.61 L160.50,102.11 L160.25,101.67 L160.00,102.08 L159.75,101.47 L159.50,101.39 L159.25,102.47 L159.00,101.01 L158.75,101.73 L158.50,101.92 L158.25,101.41 L158.00,101.10 L157.75,100.92 L157.50,101.52 L157.25,101.69 L157.00,101.66 L156.75,100.72 L156.50,100.87 L156.25,101.29 L156.00,101.08 L155.75,100.79 L155.50,102.28 L155.25,100.98 L155.00,100.71 L154.75,100.97 L154.50,101.45 L154.25,101.11 L154.00,100.94 L153.75,101.38 L153.50,100.69 L153.25,100.97 L153.00,100.76 L152.75,100.87 L152.50,101.31 L152.25,100.98 L152.00,100.53 L151.75,100.93 L151.50,100.67 L151.25,101.73 L151.00,101.44 L150.75,100.73 L150.50,100.51 L150.25,100.57 L150.00,100.69 L149.75,100.35 L149.50,100.93 L149.25,100.47 L149.00,100.28 L148.75,100.46 L148.50,100.26 L148.25,101.02 L148.00,101.09 L147.75,100.36 L147.50,100.93 L147.25,100.18 L147.00,100.31 L146.75,101.42 L146.50,100.46 L146.25,100.37 L146.00,100.46 L145.75,100.22 L145.50,100.47 L145.25,100.19 L145.00,100.79 L144.75,100.08 L144.50,100.12 L144.25,100.36 L144.00,100.26 L143.75,100.25 L143.50,100.60 L143.25,100.29 L143.00,100.31 L142.75,100.28 L142.50,100.25 L142.25,100.24 L142.00,100.13Z" fill="#377eb8" stroke="none"/><path d="M142.00,97.05 L142.12,100.32 L142.25,98.51 L142.37,100.30 L142.50,97.65 L142.62,100.59 L142.75,98.20 L142.87,100.45 L143.00,98.56 L143.12,100.41 L143.25,98.56 L143.37,100.28 L143.50,98.54 L143.62,100.63 L143.75,98.47 L143.87,100.45 L144.00,98.35 L144.12,100.34 L144.25,98.17 L144.37,100.88 L144.50,98.39 L144.62,100.73 L144.75,97.84 L144.87,100.34 L145.00,97.70 L145.12,100.51 L145.25,98.13 L145.37,100.49 L145.50,97.70 L145.62,101.29 L145.75,98.09 L145.87,100.91 L146.00,98.28 L146.12,100.67 L146.25,98.10 L146.37,100.82 L146.50,97.93 L146.62,100.70 L146.75,98.09 L146.87,100.87 L147.00,96.71 L147.12,101.16 L147.25,97.18 L147.37,101.04 L147.50,97.42 L147.62,100.91 L147.75,98.19 L147.87,100.84 L148.00,96.60 L148.12,101.00 L148.25,97.41 L148.37,100.81 L148.50,97.63 L148.62,101.67 L148.75,98.07 L148.87,100.94 L149.00,98.03 L149.12,101.12 L149.25,97.70 L149.37,100.73 L149.50,97.84 L149.62,101.24 L149.75,98.18 L149.87,102.81 L150.00,98.10 L150.12,100.69 L150.25,96.85 L150.37,101.08 L150.50,97.88 L150.62,101.35 L150.75,97.56 L150.87,101.26 L151.00,97.96 L151.12,100.70 L151.25,97.04 L151.37,101.31 L151.50,97.54 L151.62,101.62 L151.75,97.90 L151.87,101.16 L152.00,97.70 L152.12,101.10 L152.25,98.03 L152.37,100.84 L152.50,97.88 L152.62,100.81 L152.75,95.66 L152.87,101.13 L153.00,97.82 L153.12,101.86 L153.25,97.83 L153.37,101.41 L153.50,97.09 L153.62,101.28 L153.75,97.85 L153.87,101.24 L154.00,97.02 L154.12,102.49 L154.25,97.83 L154.37,102.70 L154.50,97.21 L154.62,100.97 L154.75,96.88 L154.87,102.21 L155.00,97.48 L155.12,101.44 L155.25,97.44 L155.37,102.05 L155.50,97.24 L155.62,101.15 L155.75,94.81 L155.87,101.02 L156.00,97.56 L156.12,101.30 L156.25,97.12 L156.37,101.41 L156.50,96.94 L156.62,102.47 L156.75,96.23 L156.87,101.50 L157.00,97.42 L157.12,101.60 L157.25,97.51 L157.37,101.63 L157.50,94.41 L157.62,101.29 L157.75,97.57 L157.87,101.57 L158.00,96.58 L158.12,102.07 L158.25,97.18 L158.37,101.55 L158.50,95.56 L158.62,101.37 L158.75,97.44 L158.87,103.12 L159.00,97.11 L159.12,101.44 L159.25,95.91 L159.37,101.45 L159.50,97.14 L159.62,102.92 L159.75,96.99 L159.87,102.16 L160.00,97.15 L160.12,101.77 L160.25,96.47 L160.37,102.68 L160.50,94.41 L160.62,103.28 L160.75,97.34 L160.87,102.19 L161.00,96.57 L161.12,102.33 L161.25,96.24 L161.37,102.25 L161.50,97.12 L161.62,104.00 L161.75,95.72 L161.87,101.62 L162.00,95.64 L162.12,103.19 L162.25,97.17 L162.37,101.73 L162.50,96.31 L162.62,103.58 L162.75,97.08 L162.87,101.70 L163.00,95.15 L163.12,102.35 L163.25,96.74 L163.37,102.44 L163.50,96.24 L163.62,102.24 L163.75,96.31 L163.87,104.14 L164.00,96.10 L164.12,103.21 L164.25,97.02 L164.37,104.33 L164.50,96.94 L164.62,103.60 L164.75,96.71 L164.87,106.43 L165.00,96.15 L165.12,102.33 L165.25,95.99 L165.37,102.40 L165.50,96.13 L165.62,104.34 L165.75,96.63 L165.87,102.82 L166.00,96.75 L166.12,105.19 L166.25,96.88 L166.37,102.83 L166.50,96.38 L166.62,102.17 L166.75,95.98 L166.87,102.37 L167.00,94.88 L167.12,104.90 L167.25,95.08 L167.37,102.63 L167.50,96.29 L167.62,102.36 L167.75,95.92 L167.87,104.58 L168.00,94.04 L168.12,102.75 L168.25,95.62 L168.37,103.38 L168.50,93.83 L168.62,104.54 L168.75,96.63 L168.87,102.23 L169.00,93.80 L169.12,103.35 L169.25,96.20 L169.37,102.39 L169.50,95.46 L169.62,102.57 L169.75,95.67 L169.87,103.29 L170.00,95.32 L170.12,103.62 L170.25,94.69 L170.37,102.47 L170.50,96.35 L170.62,103.54 L170.75,96.30 L170.87,102.73 L171.00,96.37 L171.12,103.24 L171.25,94.13 L171.37,107.48 L171.50,95.39 L171.62,103.32 L171.75,95.17 L171.87,102.59 L172.00,92.47 L172.12,104.49 L172.25,96.18 L172.37,104.13 L172.50,95.17 L172.62,103.25 L172.75,94.66 L172.87,103.97 L173.00,95.71 L173.12,102.92 L173.25,94.40 L173.37,102.68 L173.50,95.14 L173.62,103.33 L173.75,96.00 L173.87,104.32 L174.00,95.86 L174.12,104.92 L174.25,95.67 L174.37,102.68 L174.50,93.84 L174.62,102.71 L174.75,94.67 L174.87,102.78 L175.00,94.92 L175.12,104.31 L175.25,93.80 L175.37,103.23 L175.50,95.61 L175.62,102.89 L175.75,94.23 L175.87,102.88 L176.00,95.17 L176.12,106.58 L176.25,95.49 L176.37,103.09 L176.50,94.75 L176.62,103.13 L176.75,95.39 L176.87,104.19 L177.00,95.17 L177.12,103.60 L177.25,94.39 L177.37,107.00 L177.50,94.41 L177.62,104.12 L177.75,92.23 L177.87,105.78 L178.00,91.83 L178.12,110.83 L178.25,95.67 L178.37,111.33 L178.50,91.97 L178.62,105.05 L178.75,92.37 L178.87,107.44 L179.00,93.26 L179.12,104.38 L179.25,95.14 L179.37,104.62 L179.50,93.94 L179.62,103.27 L179.75,95.06 L179.87,104.87 L180.00,91.53 L180.12,104.83 L180.25,95.07 L180.37,104.16 L180.50,95.43 L180.62,105.68 L180.75,92.94 L180.87,105.94 L181.00,92.21 L181.12,103.55 L181.25,89.38 L181.37,105.67 L181.50,91.62 L181.62,105.17 L181.75,94.86 L181.87,105.28 L182.00,91.98 L182.12,107.14 L182.25,94.71 L182.37,106.25 L182.50,91.49 L182.62,106.84 L182.75,94.86 L182.87,105.66 L183.00,91.25 L183.12,104.00 L183.25,93.07 L183.37,104.27 L183.50,90.78 L183.62,104.40 L183.75,91.66 L183.87,106.47 L184.00,94.14 L184.12,109.82 L184.25,93.86 L184.37,104.45 L184.50,94.35 L184.62,104.02 L184.75,90.37 L184.87,104.35 L185.00,94.88 L185.12,104.53 L185.25,91.35 L185.37,105.03 L185.50,91.12 L185.62,104.05 L185.75,93.93 L185.87,104.79 L186.00,91.73 L186.12,104.13 L186.25,93.42 L186.37,105.62 L186.50,89.65 L186.62,111.64 L186.75,92.39 L186.87,105.11 L187.00,93.22 L187.12,105.21 L187.25,91.77 L187.37,104.50 L187.50,93.99 L187.62,106.78 L187.75,91.39 L187.87,106.78 L188.00,92.54 L188.12,104.78 L188.25,89.81 L188.37,104.20 L188.50,87.94 L188.62,105.01 L188.75,90.78 L188.87,104.32 L189.00,92.96 L189.12,106.28 L189.25,94.49 L189.37,105.32 L189.50,89.96 L189.62,104.15 L189.75,93.53 L189.87,104.71 L190.00,93.73 L190.12,110.98 L190.25,93.48 L190.37,104.68 L190.50,93.37 L190.62,106.94 L190.75,94.50 L190.87,104.38 L191.00,93.84 L191.12,104.19 L191.25,92.98 L191.37,108.75 L191.50,92.41 L191.62,109.66 L191.75,92.26 L191.87,105.57 L192.00,93.73 L192.12,111.70 L192.25,94.16 L192.37,105.02 L192.50,94.04 L192.62,108.39 L192.75,94.54 L192.87,108.59 L193.00,94.40 L193.12,110.34 L193.25,93.49 L193.37,105.81 L193.50,93.59 L193.62,104.48 L193.75,91.21 L193.87,106.48 L194.00,92.90 L194.12,104.43 L194.25,91.07 L194.37,111.34 L194.50,94.08 L194.62,105.26 L194.75,92.33 L194.87,104.61 L195.00,90.29 L195.12,105.52 L195.25,92.48 L195.37,104.69 L195.50,93.87 L195.62,105.10 L195.75,92.82 L195.87,105.03 L196.00,90.74 L196.12,105.19 L196.25,87.58 L196.37,108.45 L196.50,89.88 L196.62,105.62 L196.75,91.99 L196.87,108.13 L197.00,90.74 L197.12,104.58 L197.25,90.83 L197.37,105.48 L197.50,92.10 L197.62,110.45 L197.75,92.49 L197.87,109.49 L198.00,92.25 L198.12,104.42 L198.25,92.03 L198.37,105.76 L198.50,90.20 L198.62,108.39 L198.75,91.12 L198.87,104.56 L199.00,90.51 L199.12,106.22 L199.25,85.48 L199.37,105.18 L199.50,91.82 L199.62,106.34 L199.75,93.64 L199.87,104.87 L200.00,93.10 L200.12,105.87 L200.25,93.50 L200.37,104.80 L200.50,92.08 L200.62,105.54 L200.75,90.96 L200.87,106.95 L201.00,94.35 L201.12,107.00 L201.25,89.54 L201.37,104.64 L201.50,92.87 L201.62,107.24 L201.75,91.85 L201.87,105.08 L202.00,92.04 L202.12,107.48 L202.25,92.57 L202.37,111.78 L202.50,92.15 L202.62,106.23 L202.75,90.27 L202.87,108.18 L203.00,92.58 L203.12,109.18 L203.25,87.58 L203.37,107.67 L203.50,92.50 L203.62,104.91 L203.75,90.45 L203.87,104.53 L204.00,90.18 L204.12,105.09 L204.25,92.13 L204.37,104.70 L204.50,94.29 L204.62,106.57 L204.75,92.38 L204.87,104.46 L205.00,93.62 L205.12,105.49 L205.25,93.59 L205.37,107.84 L205.50,90.99 L205.62,105.29 L205.75,91.78 L205.87,104.91 L206.00,89.28 L206.12,109.93 L206.25,93.56 L206.37,108.37 L206.50,91.94 L206.62,108.08 L206.75,94.33 L206.87,106.41 L207.00,91.24 L207.12,105.17 L207.25,91.40 L207.37,104.78 L207.50,93.52 L207.62,106.88 L207.75,92.48 L207.87,109.49 L208.00,94.15 L208.12,109.09 L208.25,91.42 L208.37,105.17 L208.50,93.71 L208.62,105.03 L208.75,93.66 L208.87,106.82 L209.00,92.91 L209.12,112.83 L209.25,94.48 L209.37,110.02 L209.50,92.34 L209.62,106.93 L209.75,94.50 L209.87,104.96 L210.00,94.03 L210.12,105.29 L210.25,93.92 L210.37,105.86 L210.50,93.51 L210.62,106.86 L210.75,92.44 L210.87,107.29 L211.00,93.12 L211.12,104.22 L211.25,90.90 L211.37,104.75 L211.50,94.56 L211.62,106.93 L211.75,92.28 L211.87,109.31 L212.00,93.87 L212.12,107.84 L212.25,94.18 L212.37,110.60 L212.50,91.79 L212.62,105.40 L212.75,91.89 L212.87,107.07 L213.00,93.97 L213.12,109.04 L213.25,90.79 L213.37,104.40 L213.50,94.34 L213.62,105.83 L213.75,92.48 L213.87,104.35 L214.00,94.02 L214.12,104.89 L214.25,92.33 L214.37,105.44 L214.50,93.41 L214.62,105.52 L214.75,94.37 L214.87,114.04 L215.00,92.29 L215.12,106.06 L215.25,93.91 L215.37,104.98 L215.50,90.52 L215.62,105.22 L215.75,94.55 L215.87,108.53 L216.00,94.22 L216.12,106.22 L216.25,92.77 L216.37,105.70 L216.50,94.36 L216.62,106.16 L216.75,92.26 L216.87,105.02 L217.00,93.75 L217.12,107.99 L217.25,93.11 L217.37,106.67 L217.50,90.90 L217.62,109.82 L217.75,94.22 L217.87,106.97 L218.00,92.88 L218.12,105.69 L218.25,94.77 L218.37,105.34 L218.50,91.73 L218.62,105.42 L218.75,92.63 L218.87,104.06 L219.00,93.68 L219.12,105.97 L219.25,93.84 L219.37,105.47 L219.50,94.10 L219.62,104.29 L219.75,90.72 L219.87,106.85 L220.00,94.84 L220.12,105.58 L220.25,92.95 L220.37,106.54 L220.50,91.12 L220.62,106.43 L220.75,90.83 L220.87,104.87 L221.00,94.79 L221.12,105.84 L221.25,90.81 L221.37,103.94 L221.50,89.96 L221.62,108.80 L221.75,93.64 L221.87,105.14 L222.00,98.54 L222.12,100.09 L222.25,98.66 L222.37,100.31 L222.50,98.64 L222.62,100.16 L222.75,98.75 L222.87,100.10 L223.00,98.76 L223.12,100.03 L223.25,98.68 L223.37,100.23 L223.50,98.71 L223.62,100.34 L223.75,98.60 L223.87,100.26 L224.00,98.67 L224.12,100.30 L224.25,98.78 L224.37,100.01 L224.50,98.53 L224.62,100.08 L224.75,98.67 L224.87,100.05 L225.00,98.79 L225.12,100.19 L225.25,98.79 L225.37,100.15 L225.50,98.55 L225.62,100.14 L225.75,98.66 L225.87,100.32 L226.00,98.71 L226.12,100.09 L226.25,98.80 L226.37,100.16 L226.50,98.80 L226.62,100.14 L226.75,98.57 L226.87,100.01 L227.00,98.80 L227.12,100.01 L227.25,98.73 L227.37,100.20 L227.50,98.64 L227.62,100.31 L227.75,98.70 L227.87,100.05 L228.00,98.77 L228.12,100.09 L228.25,98.71 L228.37,100.29 L228.50,98.60 L228.62,100.04 L228.75,98.51 L228.87,100.07 L229.00,98.54 L229.12,100.08 L229.25,98.73 L229.37,100.13 L229.50,98.53 L229.62,100.11 L229.75,98.72 L229.87,100.26 L230.00,98.53 L230.12,100.02 L230.25,98.72 L230.37,100.02 L230.50,98.51 L230.62,100.20 L230.75,98.70 L230.87,100.05 L231.00,98.59 L231.12,100.31 L231.25,98.67 L231.37,100.26 L231.50,98.66 L231.62,100.04 L231.75,98.51 L231.87,100.19 L232.00,98.79 L232.12,100.05 L232.25,98.76 L232.37,100.22 L232.50,98.74 L232.62,100.07 L232.75,98.40 L232.87,100.23 L233.00,98.69 L233.12,100.19 L233.25,98.68 L233.37,100.09 L233.50,98.75 L233.62,100.11 L233.75,98.69 L233.87,100.25 L234.00,98.59 L234.12,100.63 L234.25,98.43 L234.37,100.05 L234.50,98.58 L234.62,100.04 L234.75,98.75 L234.87,100.17 L235.00,98.69 L235.12,100.32 L235.25,98.61 L235.37,100.14 L235.50,98.71 L235.62,100.05 L235.75,98.48 L235.87,100.21 L236.00,98.76 L236.12,100.21 L236.25,98.73 L236.37,100.30 L236.50,98.72 L236.62,100.10 L236.75,98.62 L236.87,100.34 L237.00,98.77 L237.12,100.14 L237.25,98.65 L237.37,100.32 L237.50,98.80 L237.62,100.15 L237.75,98.79 L237.87,100.22 L238.00,98.51 L238.12,100.10 L238.25,98.74 L238.37,100.04 L238.50,98.73 L238.62,100.37 L238.75,98.76 L238.87,100.06 L239.00,98.58 L239.12,100.01 L239.25,98.66 L239.37,100.02 L239.50,98.80 L239.62,100.04 L239.75,98.68 L239.87,100.24 L240.00,98.54 L240.12,100.12 L240.25,98.50 L240.37,100.15 L240.50,98.66 L240.62,100.09 L240.75,98.47 L240.87,100.27 L241.00,98.78 L241.12,100.10 L241.25,98.48 L241.37,100.00 L241.50,98.53 L241.62,100.16 L241.75,98.72 L241.87,100.07 L242.00,98.74 L242.12,100.07 L242.25,98.66 L242.37,100.47 L242.50,98.70 L242.62,100.23 L242.75,98.61 L242.87,100.19 L243.00,98.73 L243.12,100.02 L243.25,98.67 L243.37,100.32 L243.50,98.75 L243.62,100.17 L243.75,98.44 L243.87,100.18 L244.00,98.38 L244.12,100.15 L244.25,98.54 L244.37,100.06 L244.50,98.68 L244.62,100.07 L244.75,98.70 L244.87,100.03 L245.00,98.66 L245.12,100.13 L245.25,98.64 L245.37,100.12 L245.50,98.71 L245.62,100.10 L245.75,98.77 L245.87,100.10 L246.00,98.75 L246.12,100.08 L246.25,98.54 L246.37,100.04 L246.50,98.55 L246.62,100.32 L246.75,98.61 L246.87,100.11 L247.00,98.71 L247.12,100.27 L247.25,98.66 L247.37,100.05 L247.50,98.72 L247.62,100.16 L247.75,98.74 L247.87,100.08 L248.00,98.70 L248.12,100.03 L248.25,98.70 L248.37,100.03 L248.50,98.78 L248.62,100.22 L248.75,98.46 L248.87,100.27 L249.00,98.72 L249.12,100.16 L249.25,98.65 L249.37,100.01 L249.50,98.77 L249.62,100.19 L249.75,98.62 L249.87,100.13 L250.00,98.64 L250.12,100.07 L250.25,98.71 L250.37,100.01 L250.50,98.62 L250.62,100.11 L250.75,98.69 L250.87,100.15 L251.00,98.70 L251.12,100.02 L251.25,98.80 L251.37,100.19 L251.50,98.75 L251.62,100.14 L251.75,98.52 L251.87,100.02 L252.00,98.73 L252.12,100.13 L252.25,98.72 L252.37,100.02 L252.50,98.57 L252.62,100.23 L252.75,98.68 L252.87,100.27 L253.00,98.71 L253.12,100.02 L253.25,98.51 L253.37,100.19 L253.50,98.73 L253.62,100.31 L253.75,98.56 L253.87,100.26 L254.00,98.51 L254.12,100.14 L254.25,98.54 L254.37,100.07 L254.50,98.64 L254.62,100.14 L254.75,98.78 L254.87,100.11 L255.00,98.52 L255.12,100.12 L255.25,98.55 L255.37,100.04 L255.50,98.58 L255.62,100.12 L255.75,98.52 L255.87,100.24 L256.00,98.77 L256.12,100.01 L256.25,98.52 L256.37,100.10 L256.50,98.61 L256.62,100.07 L256.75,98.49 L256.87,100.16 L257.00,98.67 L257.12,100.01 L257.25,98.64 L257.37,100.10 L257.50,98.72 L257.62,100.30 L257.75,98.69 L257.87,100.10 L258.00,98.78 L258.12,100.10 L258.25,98.39 L258.37,100.00 L258.50,98.66 L258.62,100.10 L258.75,98.64 L258.87,100.45 L259.00,98.61 L259.12,100.13 L259.25,98.54 L259.37,100.21 L259.50,98.60 L259.62,100.11 L259.75,98.58 L259.87,100.08 L260.00,98.78 L260.12,100.06 L260.25,98.80 L260.37,100.09 L260.50,98.74 L260.62,100.17 L260.75,98.57 L260.87,100.12 L261.00,98.75 L261.12,100.06 L261.25,98.70 L261.37,100.21 L261.50,98.50 L261.62,100.17 L261.75,98.57 L261.87,100.12 L262.00,98.36 L262.12,100.07 L262.25,98.72 L262.37,100.05 L262.50,98.73 L262.62,100.02 L262.75,98.68 L262.87,100.00 L263.00,98.73 L263.12,100.14 L263.25,98.72 L263.37,100.02 L263.50,98.80 L263.62,100.12 L263.75,98.50 L263.87,100.15 L264.00,98.47 L264.12,100.13 L264.25,98.57 L264.37,100.24 L264.50,98.62 L264.62,100.03 L264.75,98.66 L264.87,100.07 L265.00,98.55 L265.12,100.07 L265.25,98.53 L265.37,100.23 L265.50,98.61 L265.62,100.10 L265.75,98.80 L265.87,100.23 L266.00,98.69 L266.12,100.08 L266.25,98.70 L266.37,100.00 L266.50,98.65 L266.62,100.05 L266.75,98.57 L266.87,100.03" fill="none" stroke="#377eb8" stroke-width="0.4" stroke-opacity="0.65" stroke-linejoin="round"/>
<line x1="141.9" y1="44.7" x2="141.9" y2="176.5" stroke="#1a1a1a" stroke-width="1.05" stroke-dasharray="2.5 1.32"/>
<line x1="181.9" y1="44.7" x2="181.9" y2="176.5" stroke="#1a1a1a" stroke-width="1.05" stroke-dasharray="2.5 1.32"/>
<line x1="221.9" y1="44.7" x2="221.9" y2="176.5" stroke="#1a1a1a" stroke-width="1.05" stroke-dasharray="2.5 1.32"/>
<line x1="268.8" y1="44.7" x2="268.8" y2="176.5" stroke="#1a1a1a" stroke-width="1.05" stroke-dasharray="2.5 1.32"/>
<path d="M141.9,156 L181.9,131.3 L221.9,131.3 L221.9,156.5 L268.8,156.5" fill="none" stroke="#2a2a2a" stroke-width="1.4" stroke-linejoin="miter"/>
<line x1="142" y1="168.3" x2="269" y2="168.3" stroke="#333" stroke-width="1.1"/>
<text x="100.6" y="63.5" font-size="14" font-weight="normal" fill="#2a2a2a" textLength="26.2" lengthAdjust="spacingAndGlyphs" >ECR</text>
<text x="100.0" y="104.1" font-size="14" font-weight="normal" fill="#2a2a2a" textLength="26.8" lengthAdjust="spacingAndGlyphs" >FCU</text>
<text x="61.5" y="136.3" font-size="14" font-weight="normal" fill="#2a2a2a" textLength="31.0" lengthAdjust="spacingAndGlyphs" >MVC</text>
<text x="102.5" y="136.3" font-size="14" font-weight="normal" fill="#2a2a2a" textLength="24.3" lengthAdjust="spacingAndGlyphs" >25%</text>
<text x="109.2" y="156.7" font-size="14" font-weight="normal" fill="#2a2a2a" textLength="17.6" lengthAdjust="spacingAndGlyphs" >0%</text>
<text x="73.3" y="182" font-size="14" font-weight="normal" fill="#2a2a2a" textLength="52.8" lengthAdjust="spacingAndGlyphs" >Duration</text>
<text x="157.2" y="182" font-size="14" text-anchor="middle" fill="#2a2a2a" >5</text>
<text x="196.8" y="182" font-size="14" text-anchor="middle" fill="#2a2a2a" >5</text>
<text x="243.5" y="182" font-size="14" text-anchor="middle" fill="#2a2a2a" >7</text>
<text x="271.2" y="182" font-size="14" font-weight="normal" fill="#2a2a2a" textLength="13.6" lengthAdjust="spacingAndGlyphs" >(s)</text>
<rect x="94.2" y="239.7" width="145.3" height="20" fill="#fff" stroke="#555" stroke-width="0.9"/>
<rect x="244.4" y="239.7" width="145.2" height="20" fill="#fff" stroke="#555" stroke-width="0.9"/>
<text x="166.5" y="255.5" font-size="16" text-anchor="middle" fill="#555" >1</text>
<text x="317" y="255.5" font-size="16" text-anchor="middle" fill="#555" >2</text>
<path d="M94.2,259.5 V512.3 H239.5" fill="none" stroke="#7a7a7a" stroke-width="1.2"/>
<path d="M244.4,512.3 H390" fill="none" stroke="#7a7a7a" stroke-width="1.2"/>
<line x1="91.8" y1="294.4" x2="94.2" y2="294.4" stroke="#555" stroke-width="0.9"/>
<text x="68.4" y="300.4" font-size="16" font-weight="normal" fill="#555" textLength="21.3" lengthAdjust="spacingAndGlyphs" >0.7</text>
<line x1="91.8" y1="340.2" x2="94.2" y2="340.2" stroke="#555" stroke-width="0.9"/>
<text x="68.4" y="346.2" font-size="16" font-weight="normal" fill="#555" textLength="21.3" lengthAdjust="spacingAndGlyphs" >0.6</text>
<line x1="91.8" y1="386.0" x2="94.2" y2="386.0" stroke="#555" stroke-width="0.9"/>
<text x="68.4" y="392.0" font-size="16" font-weight="normal" fill="#555" textLength="21.3" lengthAdjust="spacingAndGlyphs" >0.5</text>
<line x1="91.8" y1="431.9" x2="94.2" y2="431.9" stroke="#555" stroke-width="0.9"/>
<text x="68.4" y="437.9" font-size="16" font-weight="normal" fill="#555" textLength="21.3" lengthAdjust="spacingAndGlyphs" >0.4</text>
<line x1="91.8" y1="477.7" x2="94.2" y2="477.7" stroke="#555" stroke-width="0.9"/>
<text x="68.4" y="483.7" font-size="16" font-weight="normal" fill="#555" textLength="21.3" lengthAdjust="spacingAndGlyphs" >0.3</text>
<line x1="133.9" y1="512.3" x2="133.9" y2="514.4" stroke="#555" stroke-width="0.9"/>
<line x1="200.2" y1="512.3" x2="200.2" y2="514.4" stroke="#555" stroke-width="0.9"/>
<line x1="283.9" y1="512.3" x2="283.9" y2="514.4" stroke="#555" stroke-width="0.9"/>
<line x1="350" y1="512.3" x2="350" y2="514.4" stroke="#555" stroke-width="0.9"/>
<text x="-10.1" y="0" font-size="15.5" font-weight="normal" fill="#222" textLength="20.2" lengthAdjust="spacingAndGlyphs" transform="translate(63.3 385.8) rotate(-90)">ER</text>
<text x="197.0" y="537" font-size="19" font-weight="normal" fill="#222" textLength="90.4" lengthAdjust="spacingAndGlyphs" >Participant</text>
<path d="M133.70,347.90 L133.60,357.60 L132.25,358.80 L130.95,360.50 L129.75,364.50 L128.45,368.60 L126.85,372.70 L124.15,376.80 L119.85,380.10 L115.85,382.90 L115.55,385.00 L116.15,387.50 L117.85,389.90 L118.65,392.40 L119.95,394.80 L122.35,397.30 L125.65,399.70 L128.95,402.20 L130.95,404.60 L131.85,407.10 L131.35,408.70 L131.05,410.70 L132.25,412.80 L133.15,415.30 L133.85,416.90 L133.85,416.90 L134.55,415.30 L135.45,412.80 L136.65,410.70 L136.35,408.70 L135.85,407.10 L136.75,404.60 L138.75,402.20 L142.05,399.70 L145.35,397.30 L147.75,394.80 L149.05,392.40 L149.85,389.90 L151.55,387.50 L152.15,385.00 L151.85,382.90 L147.85,380.10 L143.55,376.80 L140.85,372.70 L139.25,368.60 L137.95,364.50 L136.75,360.50 L135.45,358.80 L134.10,357.60 L134.00,347.90Z" fill="#01665e" stroke="#444" stroke-width="0.5" stroke-linejoin="round"/>
<path d="M199.90,362.80 L198.40,365.40 L197.60,367.30 L196.30,368.90 L197.10,370.20 L197.10,371.80 L193.50,373.70 L189.70,375.30 L187.10,376.90 L184.80,378.80 L182.60,380.70 L176.90,382.60 L171.10,383.90 L170.10,384.60 L172.40,385.80 L174.30,387.80 L178.80,389.00 L182.00,391.00 L183.30,392.90 L189.00,394.80 L193.50,396.70 L195.40,398.60 L196.10,401.20 L196.70,403.80 L198.00,406.30 L198.90,408.90 L199.90,412.70 L199.90,412.70 L200.90,408.90 L201.80,406.30 L203.10,403.80 L203.70,401.20 L204.40,398.60 L206.30,396.70 L210.80,394.80 L216.50,392.90 L217.80,391.00 L221.00,389.00 L225.50,387.80 L227.40,385.80 L229.70,384.60 L228.70,383.90 L222.90,382.60 L217.20,380.70 L215.00,378.80 L212.70,376.90 L210.10,375.30 L206.30,373.70 L202.70,371.80 L202.70,370.20 L203.50,368.90 L202.20,367.30 L201.40,365.40 L199.90,362.80Z" fill="#8c510a" stroke="#444" stroke-width="0.5" stroke-linejoin="round"/>
<path d="M283.75,351.50 L283.60,359.20 L282.80,361.40 L281.70,363.00 L279.50,364.60 L277.90,366.30 L276.80,367.90 L277.40,369.20 L277.90,370.60 L277.60,372.30 L276.80,373.90 L274.60,375.50 L270.80,377.20 L267.00,378.80 L264.80,380.50 L264.00,382.60 L264.30,385.40 L265.10,388.10 L266.40,390.80 L267.50,393.00 L269.70,394.60 L273.00,396.30 L276.80,397.90 L279.00,399.50 L280.10,401.70 L281.20,404.50 L282.00,407.00 L282.60,409.20 L283.00,411.90 L282.30,415.20 L283.00,417.90 L283.50,420.10 L283.60,430.00 L283.75,446.80 L284.05,446.80 L284.20,430.00 L284.30,420.10 L284.80,417.90 L285.50,415.20 L284.80,411.90 L285.20,409.20 L285.80,407.00 L286.60,404.50 L287.70,401.70 L288.80,399.50 L291.00,397.90 L294.80,396.30 L298.10,394.60 L300.30,393.00 L301.40,390.80 L302.70,388.10 L303.50,385.40 L303.80,382.60 L303.00,380.50 L300.80,378.80 L297.00,377.20 L293.20,375.50 L291.00,373.90 L290.20,372.30 L289.90,370.60 L290.40,369.20 L291.00,367.90 L289.90,366.30 L288.30,364.60 L286.10,363.00 L285.00,361.40 L284.20,359.20 L284.05,351.50Z" fill="#01665e" stroke="#444" stroke-width="0.5" stroke-linejoin="round"/>
<path d="M349.90,368.80 L348.60,370.40 L346.70,371.90 L343.50,373.60 L342.00,375.20 L338.40,376.80 L336.50,378.30 L330.70,379.60 L324.30,380.90 L319.80,382.10 L321.10,383.80 L322.40,385.10 L321.10,386.40 L323.00,387.60 L326.90,389.60 L330.10,391.50 L334.50,393.40 L340.90,395.30 L344.80,397.20 L347.30,399.20 L348.90,401.10 L349.10,404.30 L348.60,406.20 L348.10,407.70 L348.60,409.40 L349.50,411.30 L349.75,419.00 L350.05,419.00 L350.30,411.30 L351.20,409.40 L351.70,407.70 L351.20,406.20 L350.70,404.30 L350.90,401.10 L352.50,399.20 L355.00,397.20 L358.90,395.30 L365.30,393.40 L369.70,391.50 L372.90,389.60 L376.80,387.60 L378.70,386.40 L377.40,385.10 L378.70,383.80 L380.00,382.10 L375.50,380.90 L369.10,379.60 L363.30,378.30 L361.40,376.80 L357.80,375.20 L356.30,373.60 L353.10,371.90 L351.20,370.40 L349.90,368.80Z" fill="#8c510a" stroke="#444" stroke-width="0.5" stroke-linejoin="round"/>
<text x="402.8" y="373.8" font-size="16" font-weight="normal" fill="#222" textLength="47.2" lengthAdjust="spacingAndGlyphs" >Device</text>
<rect x="403.2" y="383.8" width="12.7" height="13.9" fill="#01665e" stroke="#666" stroke-width="0.7"/>
<rect x="403.2" y="397.7" width="12.7" height="13.9" fill="#8c510a" stroke="#666" stroke-width="0.7"/>
<text x="424.0" y="396.0" font-size="16" font-weight="normal" fill="#222" textLength="46.0" lengthAdjust="spacingAndGlyphs" >Delsys</text>
<text x="424.0" y="410.6" font-size="16" font-weight="normal" fill="#222" textLength="62.3" lengthAdjust="spacingAndGlyphs" >Myoware</text>
</svg>
</body></html>
